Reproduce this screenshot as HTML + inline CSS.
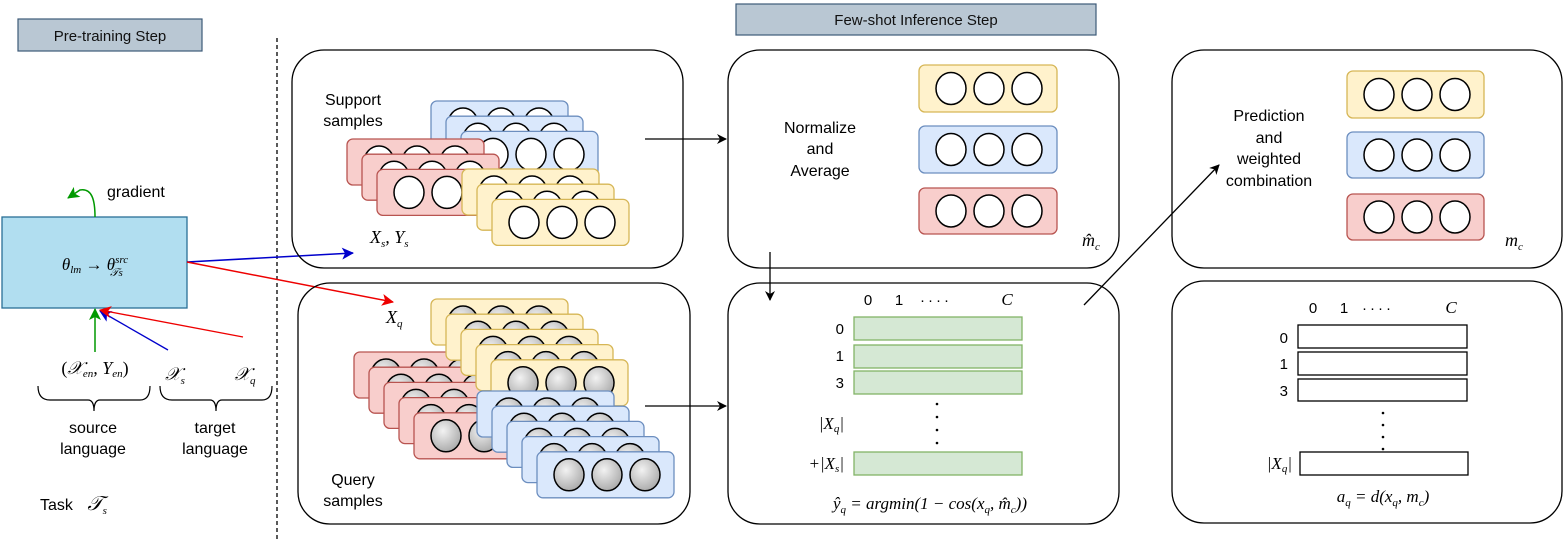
<!DOCTYPE html>
<html><head><meta charset="utf-8"><style>
html,body{margin:0;padding:0;background:#fff;}
svg{display:block;font-family:"Liberation Sans",sans-serif;}
.m{font-family:"Liberation Serif",serif;font-style:italic;}
</style></head><body>
<svg id="d" width="1565" height="547" viewBox="0 0 1565 547">
<defs>
<radialGradient id="gg" cx="0.4" cy="0.35" r="0.7"><stop offset="0" stop-color="#f2f2f2"/><stop offset="1" stop-color="#a8a8a8"/></radialGradient>
<marker id="ak" markerWidth="10" markerHeight="10" refX="9" refY="5" orient="auto" markerUnits="userSpaceOnUse"><path d="M0,0 L10,5 L0,10 L3,5z" fill="#000"/></marker>
<marker id="ab" markerWidth="12" markerHeight="12" refX="11" refY="6" orient="auto" markerUnits="userSpaceOnUse"><path d="M0,0 L12,6 L0,12 L3,6z" fill="#00c"/></marker>
<marker id="ar" markerWidth="12" markerHeight="12" refX="11" refY="6" orient="auto" markerUnits="userSpaceOnUse"><path d="M0,0 L12,6 L0,12 L3,6z" fill="#e00"/></marker>
<marker id="ag" markerWidth="12" markerHeight="12" refX="11" refY="6" orient="auto" markerUnits="userSpaceOnUse"><path d="M0,0 L12,6 L0,12 L3,6z" fill="#090"/></marker>
</defs>

<g>
<rect x="18" y="19" width="184" height="32" fill="#b9c7d3" stroke="#3d5a78" stroke-width="1.2"/>
<text x="110" y="41" font-size="15" text-anchor="middle" fill="#111">Pre-training Step</text></g>
<g>
<rect x="736" y="4" width="360" height="31" fill="#b9c7d3" stroke="#3d5a78" stroke-width="1.2"/>
<text x="916" y="25" font-size="15" text-anchor="middle" fill="#111">Few-shot Inference Step</text></g>

<line x1="277" y1="38" x2="277" y2="540" stroke="#000" stroke-width="1.3" stroke-dasharray="4,3"/>

<g>
<rect x="2" y="217" width="185" height="91" fill="#b1def0" stroke="#2a6f96" stroke-width="1.3"/>
<text x="95" y="270" font-size="17" text-anchor="middle" class="m">θ<tspan font-size="11" dy="3">lm</tspan><tspan dy="-3" font-style="normal"> → </tspan>θ<tspan font-size="11" dy="-7">src</tspan><tspan font-size="11" dx="-18" dy="13">𝒯s</tspan></text></g>

<path d="M95,217 C95,200 92,188 80,190 L68,198" fill="none" stroke="#090" stroke-width="1.5" marker-end="url(#ag)"/>
<text x="107" y="197" font-size="16">gradient</text>

<line x1="95" y1="352" x2="95" y2="309" stroke="#090" stroke-width="1.5" marker-end="url(#ag)"/>
<line x1="168" y1="350" x2="100" y2="311" stroke="#00c" stroke-width="1.3" marker-end="url(#ab)"/>
<line x1="243" y1="337" x2="100" y2="310" stroke="#e00" stroke-width="1.3" marker-end="url(#ar)"/>
<line x1="187" y1="262" x2="353" y2="253" stroke="#00c" stroke-width="1.5" marker-end="url(#ab)"/>
<line x1="187" y1="262" x2="393" y2="302" stroke="#e00" stroke-width="1.5" marker-end="url(#ar)"/>

<text x="95" y="374" font-size="18" text-anchor="middle" class="m"><tspan font-style="normal">(</tspan>𝒳<tspan font-size="11" dy="3">en</tspan><tspan dy="-3">, Y</tspan><tspan font-size="11" dy="3">en</tspan><tspan dy="-3" font-style="normal">)</tspan></text>
<text x="175" y="380" font-size="18" text-anchor="middle" class="m">𝒳<tspan font-size="11" dy="4">s</tspan></text>
<text x="245" y="380" font-size="18" text-anchor="middle" class="m">𝒳<tspan font-size="11" dy="4">q</tspan></text>
<path d="M38,386 Q38,400 50,400 L88,400 Q94,400 94,411 Q94,400 100,400 L140,400 Q150,400 150,386" fill="none" stroke="#000" stroke-width="1.2"/>
<path d="M160,386 Q160,400 172,400 L210,400 Q216,400 216,411 Q216,400 222,400 L262,400 Q272,400 272,386" fill="none" stroke="#000" stroke-width="1.2"/>
<text font-size="16" text-anchor="middle"><tspan x="93" y="433">source</tspan><tspan x="93" y="454">language</tspan></text>
<text font-size="16" text-anchor="middle"><tspan x="215" y="433">target</tspan><tspan x="215" y="454">language</tspan></text>
<text x="40" y="510" font-size="16">Task <tspan class="m" font-size="20" dx="10">𝒯</tspan><tspan class="m" font-size="11" dy="4">s</tspan></text>

<g fill="none" stroke="#000" stroke-width="1.3">
<rect x="292" y="50" width="391" height="218" rx="32"/>
<rect x="298" y="283" width="392" height="241" rx="32"/>
<rect x="728" y="50" width="391" height="218" rx="32"/>
<rect x="728" y="283" width="391" height="241" rx="32"/>
<rect x="1172" y="50" width="390" height="218" rx="32"/>
<rect x="1172" y="281" width="390" height="242" rx="32"/>
</g>
<text font-size="16" text-anchor="middle"><tspan x="353" y="105">Support</tspan><tspan x="353" y="126">samples</tspan></text>
<text font-size="16" text-anchor="middle"><tspan x="353" y="485">Query</tspan><tspan x="353" y="506">samples</tspan></text>
<text x="370" y="243" font-size="18" class="m">X<tspan font-size="11" dy="4">s</tspan><tspan dy="-4">, Y</tspan><tspan font-size="11" dy="4">s</tspan></text>
<text x="386" y="323" font-size="18" class="m">X<tspan font-size="11" dy="4">q</tspan></text>
<g id="cards"></g>

<line x1="645" y1="139" x2="726" y2="139" stroke="#000" stroke-width="1.3" marker-end="url(#ak)"/>
<line x1="645" y1="406" x2="726" y2="406" stroke="#000" stroke-width="1.3" marker-end="url(#ak)"/>
<line x1="770" y1="252" x2="770" y2="300" stroke="#000" stroke-width="1.3" marker-end="url(#ak)"/>
<line x1="1084" y1="305" x2="1219" y2="165" stroke="#000" stroke-width="1.3" marker-end="url(#ak)"/>

<text font-size="16" text-anchor="middle"><tspan x="820" y="133">Normalize</tspan><tspan x="820" y="154">and</tspan><tspan x="820" y="176">Average</tspan></text>
<text font-size="16" text-anchor="middle"><tspan x="1269" y="121">Prediction</tspan><tspan x="1269" y="143">and</tspan><tspan x="1269" y="164">weighted</tspan><tspan x="1269" y="186">combination</tspan></text>
<text x="1082" y="246" font-size="18" class="m">m̂<tspan font-size="11" dy="4">c</tspan></text>
<text x="1505" y="246" font-size="18" class="m">m<tspan font-size="11" dy="4">c</tspan></text>

<g font-size="15">
<text x="868" y="305" text-anchor="middle">0</text><text x="899" y="305" text-anchor="middle">1</text><text x="920" y="305" letter-spacing="3">····</text><text x="1007" y="305" class="m" font-size="17" text-anchor="middle">C</text>
<g fill="#d5e8d4" stroke="#82b366" stroke-width="1.3">
<rect x="854" y="317" width="168" height="23"/><rect x="854" y="345" width="168" height="23"/><rect x="854" y="371" width="168" height="23"/><rect x="854" y="452" width="168" height="23"/></g>
<text x="844" y="334" text-anchor="end">0</text><text x="844" y="361" text-anchor="end">1</text><text x="844" y="388" text-anchor="end">3</text>
<text x="844" y="429" text-anchor="end" class="m" font-size="17">|X<tspan font-size="11" dy="3">q</tspan><tspan dy="-3">|</tspan></text>
<text x="844" y="469" text-anchor="end" class="m" font-size="17">+|X<tspan font-size="11" dy="3">s</tspan><tspan dy="-3">|</tspan></text>
<g fill="#000"><circle cx="937" cy="404" r="1.3"/><circle cx="937" cy="417" r="1.3"/><circle cx="937" cy="430" r="1.3"/><circle cx="937" cy="443" r="1.3"/></g>
<text x="930" y="509" text-anchor="middle" class="m" font-size="17">ŷ<tspan font-size="11" dy="4">q</tspan><tspan dy="-4"> = argmin(1 − cos(x</tspan><tspan font-size="11" dy="4">q</tspan><tspan dy="-4">, m̂</tspan><tspan font-size="11" dy="4">c</tspan><tspan dy="-4">))</tspan></text>
</g>

<g font-size="15">
<text x="1313" y="313" text-anchor="middle">0</text><text x="1344" y="313" text-anchor="middle">1</text><text x="1362" y="313" letter-spacing="3">····</text><text x="1451" y="313" class="m" font-size="17" text-anchor="middle">C</text>
<g fill="#fff" stroke="#000" stroke-width="1.3">
<rect x="1298" y="325" width="169" height="23"/><rect x="1298" y="352" width="169" height="23"/><rect x="1298" y="379" width="169" height="22"/><rect x="1300" y="452" width="168" height="23"/></g>
<text x="1288" y="343" text-anchor="end">0</text><text x="1288" y="369" text-anchor="end">1</text><text x="1288" y="396" text-anchor="end">3</text>
<text x="1292" y="469" text-anchor="end" class="m" font-size="17">|X<tspan font-size="11" dy="3">q</tspan><tspan dy="-3">|</tspan></text>
<g fill="#000"><circle cx="1383" cy="413" r="1.3"/><circle cx="1383" cy="425" r="1.3"/><circle cx="1383" cy="437" r="1.3"/><circle cx="1383" cy="449" r="1.3"/></g>
<text x="1383" y="502" text-anchor="middle" class="m" font-size="17">a<tspan font-size="11" dy="4">q</tspan><tspan dy="-4"> = d(x</tspan><tspan font-size="11" dy="4">q</tspan><tspan dy="-4">, m</tspan><tspan font-size="11" dy="4">c</tspan><tspan dy="-4">)</tspan></text>
</g>
</svg>
<script>
var NS='http://www.w3.org/2000/svg';
var g=document.getElementById('cards');
var COL={y:['#fff2cc','#d6b656'],b:['#dae8fc','#6c8ebf'],r:['#f8cecc','#b85450']};
function card(x,y,w,h,c,gray){
  var grp=document.createElementNS(NS,'g');
  
  
  var r=document.createElementNS(NS,'rect');
  r.setAttribute('x',x);r.setAttribute('y',y);r.setAttribute('width',w);r.setAttribute('height',h);r.setAttribute('rx',6);
  r.setAttribute('fill',COL[c][0]);r.setAttribute('stroke',COL[c][1]);r.setAttribute('stroke-width',1.3);
  grp.appendChild(r);
  for(var i=0;i<3;i++){
    var e=document.createElementNS(NS,'ellipse');
    e.setAttribute('cx',x+32+i*38);e.setAttribute('cy',y+h/2);e.setAttribute('rx',15);e.setAttribute('ry',Math.min(16,h/2-6));
    e.setAttribute('fill',gray?'url(#gg)':'#fff');e.setAttribute('stroke','#000');e.setAttribute('stroke-width',1.5);
    grp.appendChild(e);
  }
  g.appendChild(grp);
}
function stack(x,y,n,c,gray){for(var i=0;i<n;i++)card(x+i*15,y+i*15.2,137,46,c,gray);}
stack(431,101,3,'b');stack(347,139,3,'r');stack(462,169,3,'y');
stack(354,352,5,'r',1);stack(431,299,5,'y',1);stack(477,391,5,'b',1);
card(919,65,138,47,'y');card(919,126,138,47,'b');card(919,188,138,46,'r');
card(1347,71,137,47,'y');card(1347,132,137,46,'b');card(1347,194,137,46,'r');
</script>
</body></html>
